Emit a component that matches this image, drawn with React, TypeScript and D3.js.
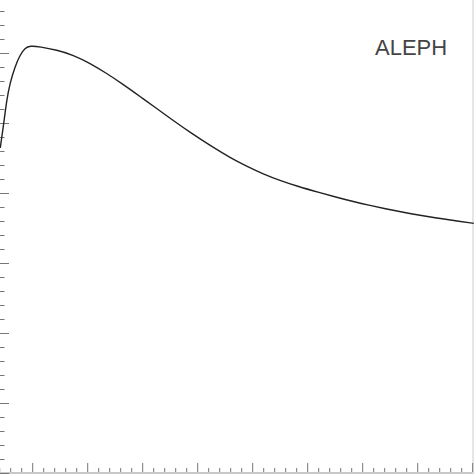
import React from "react";
import * as d3 from "d3";

// Curve (x in axis units, y in axis units)
const xValues = [0.41, 0.466, 0.527, 0.587, 0.678, 0.769, 0.86, 0.951, 1.133, 1.436, 1.738, 2.042, 2.345, 2.647, 2.951, 3.255, 3.556, 3.86, 4.284, 4.587, 4.891, 5.193, 5.496, 5.8, 6.224, 6.527, 6.829, 7.133, 7.436, 7.738, 8.042, 8.345, 8.647, 9.02];
const yValues = [4.65, 4.954, 5.336, 5.579, 5.811, 5.979, 6.079, 6.111, 6.097, 6.05, 5.979, 5.86, 5.717, 5.557, 5.386, 5.214, 5.043, 4.874, 4.657, 4.514, 4.389, 4.279, 4.186, 4.107, 4.011, 3.946, 3.884, 3.829, 3.779, 3.731, 3.689, 3.65, 3.614, 3.574];
const label = "ALEPH";

const W = 474;
const H = 474;

export default function App() {
  // major x tick every 55px, major y tick every 70px
  const x = d3.scaleLinear().domain([1, 9]).range([32.7, 472.7]);
  const y = d3.scaleLinear().domain([0, 6]).range([473.5, 53.5]);

  const xMin = x.invert(-2);
  const xMax = x.invert(W + 2);
  const yMax = y.invert(-2);

  const xMinor = d3.range(Math.ceil(xMin * 5), Math.floor(xMax * 5) + 1).map((k) => k / 5);
  const yMinor = d3.range(0, Math.floor(yMax * 5) + 1).map((k) => k / 5);
  const isMajor = (v: number) => Math.abs(v - Math.round(v)) < 1e-6;

  const data = xValues.map((xv, i) => [xv, yValues[i]] as [number, number]);
  const line = d3
    .line<[number, number]>()
    .x((d) => x(d[0]))
    .y((d) => y(d[1]))
    .curve(d3.curveBasis);

  return (
    <svg
      width={W}
      height={H}
      style={{ position: "absolute", left: 0, top: 0, background: "#fff" }}
    >
      <rect x={0} y={0} width={W} height={H} fill="#fff" />
      {/* frame lines */}
      <line x1={0} x2={W} y1={473} y2={473} stroke="#c8c8c8" strokeWidth={2} />
      <line x1={473} x2={473} y1={0} y2={H} stroke="#dcdcdc" strokeWidth={1.5} />
      {/* left axis ticks */}
      {yMinor.map((v) => (
        <line
          key={"y" + v}
          x1={0}
          x2={isMajor(v) ? 9 : 4.5}
          y1={y(v)}
          y2={y(v)}
          stroke="#777"
          strokeWidth={1}
        />
      ))}
      {/* bottom axis ticks */}
      {xMinor.map((v) => (
        <line
          key={"x" + v}
          x1={x(v)}
          x2={x(v)}
          y1={472}
          y2={isMajor(v) ? 463 : 468}
          stroke="#777"
          strokeWidth={1}
        />
      ))}
      <path d={line(data) || ""} fill="none" stroke="#222" strokeWidth={1.4} />
      <text
        x={375}
        y={54.5}
        fontFamily="Liberation Sans, Arial, sans-serif"
        fontSize={22}
        fill="#444"
      >
        {label}
      </text>
    </svg>
  );
}
